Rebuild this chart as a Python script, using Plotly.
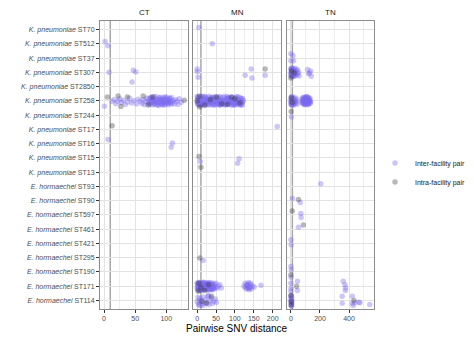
import plotly.graph_objects as go

# ---------------- data ----------------
species = ["K. pneumoniae"] * 11 + ["E. hormaechei"] * 9
st_labels = ["ST70", "ST512", "ST37", "ST307", "ST2850", "ST258", "ST244", "ST17",
             "ST16", "ST15", "ST13", "ST93", "ST90", "ST597", "ST461", "ST421",
             "ST295", "ST190", "ST171", "ST114"]
sites = ["CT", "MN", "TN"]
threshold = 10
x_ranges = {"CT": [-6.5, 135], "MN": [-11, 222], "TN": [-27, 572]}
x_dticks = {"CT": 50, "MN": 50, "TN": 200}

# pairwise SNV distances (x) and vertical jitter per ST, per site and pair type
ct_inter_x = {
    "ST512": [1.6, 6],
    "ST307": [8, 47, 51],
    "ST2850": [45],
    "ST258": [0.5, 13, 16, 19, 22, 25, 28, 31, 34, 38, 41, 44, 48, 52, 55, 58,
              61, 63, 65, 67, 69, 71, 72, 73, 74, 75, 76, 77, 78, 79, 80, 81, 82,
              83, 84, 85, 86, 87, 88, 89, 90, 91, 92, 93, 94, 95, 96, 97, 98, 99,
              100, 101, 102, 103, 104, 105, 106, 107, 108, 110, 111, 113, 115,
              117, 119, 121, 124,
              72.5, 75.5, 78.5, 81.5, 84.5, 87.5, 90.5, 93.5, 96.5, 99.5, 102.5,
              105.5, 108.5, 80, 86, 92, 98, 104, 76, 95],
    "ST16": [6.5, 110, 108],
}
ct_inter_jit = {
    "ST512": [-0.17, 0.13],
    "ST307": [0.0, -0.15, -0.03],
    "ST2850": [-0.33],
    "ST258": [0.38, 0.05, -0.1, 0.2, 0.02, -0.15, 0.12, -0.05, 0.25, 0.08, -0.18,
              0.15, -0.02, 0.22, -0.12, 0.05, 0.18, -0.08, 0.28, 0.02, -0.2, 0.1,
              -0.15, 0.25, 0.0, -0.25, 0.15, -0.05, 0.3, 0.08, -0.18, 0.2, -0.02,
              0.12, -0.28, 0.05, 0.22, -0.1, 0.32, -0.2, 0.0, 0.18, -0.12, 0.26,
              0.06, -0.22, 0.14, -0.04, 0.3, -0.16, 0.1, -0.26, 0.2, -0.06, 0.28,
              0.02, -0.14, 0.16, -0.24, 0.08, -0.02, 0.22, -0.1, 0.05, 0.25,
              -0.15, 0.1,
              0.18, -0.2, 0.05, 0.25, -0.12, 0.1, -0.25, 0.2, -0.08, 0.15, 0.0,
              -0.18, 0.22, -0.3, 0.3, -0.02, -0.28, 0.12, 0.02, 0.3],
    "ST16": [-0.28, -0.05, 0.26],
}
ct_intra_x = {
    "ST258": [5.3, 22.6, 27, 37.6, 62.9, 77.9, 71, 129],
    "ST17": [13],
}
ct_intra_jit = {
    "ST258": [-0.27, -0.34, 0.4, -0.27, -0.34, -0.27, 0.3, -0.04],
    "ST17": [-0.25],
}

mn_inter_x = {
    "ST70": [4.5],
    "ST512": [40],
    "ST307": [0, 0.5, 2.7, 127, 143, 145, 180],
    "ST258": [0, 1, 2, 3, 4, 5, 6, 8, 9, 11, 12, 14, 15, 17, 18, 20, 22, 23, 25,
              27, 28, 30, 32, 33, 35, 37, 38, 40, 42, 43, 45, 47, 48, 50, 52, 54,
              55, 57, 59, 60, 62, 64, 66, 67, 69, 71, 72, 74, 76, 78, 79, 81, 83,
              85, 86, 88, 90, 92, 93, 95, 97, 99, 100, 102, 104, 106, 107, 109,
              111, 113, 114, 116, 118, 120, 121, 122,
              0.5, 2.5, 4.5, 7, 10, 13, 16, 19, 21, 24, 26, 29, 31, 34, 36, 39,
              41, 44, 46, 49, 51, 53, 56, 58, 61, 63, 65, 68, 70, 73, 75, 77, 80,
              82, 84, 87, 89, 91, 94, 96, 98, 101, 103, 105, 108, 110, 112, 115,
              117, 119, 1.5, 3.5, 10.5, 20.5, 30.5, 40.5, 60.5, 80.5, 100.5,
              119.5],
    "ST17": [212],
    "ST15": [111, 107, 8],
    "ST295": [16],
    "ST171": [0, 1, 2, 3, 4, 5, 6, 7, 8, 9, 10, 11, 12, 13, 14, 15, 16, 17, 18,
              19, 20, 21, 22, 23, 24, 25, 26, 27, 28, 29, 30, 31, 32, 33, 34, 35,
              36, 37, 38, 39, 40, 41, 42, 43, 44, 46, 48, 50, 53, 56, 60, 64,
              124, 127, 130, 132, 134, 136, 138, 140, 142, 144, 146, 151, 169,
              0.5, 1.5, 2.5, 3.5, 4.5, 6.5, 8.5, 10.5, 12.5, 14.5, 16.5, 18.5,
              20.5, 22.5, 24.5, 26.5, 28.5, 30.5, 32.5, 34.5, 36.5, 38.5, 40.5,
              42.5, 45, 2, 6, 11, 17, 25,
              128, 133, 137, 141, 131, 139],
    "ST114": [0, 2, 4, 6, 8, 10, 13, 16, 19, 22, 25, 28, 31, 34, 37, 40, 44, 48,
              51, 5, 15, 30],
}
mn_inter_jit = {
    "ST70": [-0.14],
    "ST512": [-0.01],
    "ST307": [-0.24, -0.05, 0.34, 0.2, -0.24, 0.4, 0.2],
    "ST258": [-0.3, 0.1, 0.25, -0.12, 0.02, 0.3, -0.22, 0.15, -0.05, 0.28, -0.28,
              0.08, 0.2, -0.15, -0.02, 0.32, -0.25, 0.12, 0.22, -0.08, 0.0, 0.27,
              -0.32, 0.05, 0.18, -0.18, -0.04, 0.3, -0.2, 0.1, 0.24, -0.1, 0.03,
              0.29, -0.27, 0.14, 0.21, -0.14, -0.01, 0.31, -0.24, 0.07, 0.19,
              -0.06, 0.01, 0.26, -0.3, 0.11, 0.23, -0.16, -0.03, 0.28, -0.21,
              0.09, 0.17, -0.11, 0.04, 0.32, -0.26, 0.13, 0.25, -0.09, -0.02,
              0.3, -0.29, 0.06, 0.2, -0.13, 0.0, 0.27, -0.23, 0.12, 0.22, -0.17,
              0.05, -0.05,
              0.15, -0.28, 0.05, 0.3, -0.1, 0.2, -0.3, 0.0, 0.25, -0.18, 0.12,
              -0.05, 0.28, -0.22, 0.08, 0.18, -0.12, 0.3, -0.28, 0.02, 0.22,
              -0.15, 0.1, -0.3, 0.26, -0.02, 0.16, -0.24, 0.06, 0.3, -0.08, 0.2,
              -0.3, 0.12, -0.16, 0.24, 0.0, -0.26, 0.18, -0.1, 0.28, -0.2, 0.04,
              0.14, -0.28, 0.22, -0.04, 0.3, -0.14, 0.1, -0.18, 0.2, 0.3, -0.3,
              0.0, -0.25, 0.25, -0.2, 0.2, 0.3],
    "ST17": [-0.2],
    "ST15": [0.07, 0.38, 0.25],
    "ST295": [0.2],
    "ST171": [-0.2, 0.15, 0.25, -0.05, 0.1, -0.25, 0.2, 0.0, -0.15, 0.26, -0.1,
              0.05, 0.22, -0.22, 0.12, -0.02, 0.18, -0.18, 0.08, 0.24, -0.12,
              0.02, -0.24, 0.16, -0.06, 0.2, 0.1, -0.2, 0.0, 0.25, -0.14, 0.06,
              -0.25, 0.14, -0.04, 0.22, -0.16, 0.04, 0.18, -0.08, 0.26, -0.22,
              0.1, -0.02, 0.2, -0.12, 0.08, -0.2, 0.15, 0.0, -0.1, 0.12,
              0.0, -0.2, 0.2, -0.08, 0.12, -0.25, 0.25, 0.05, -0.12, 0.18,
              -0.02, 0.05, -0.06,
              0.1, -0.15, 0.25, -0.25, 0.0, 0.2, -0.2, 0.12, -0.08, 0.26, -0.26,
              0.05, 0.18, -0.12, 0.22, -0.18, 0.02, 0.26, -0.22, 0.1, -0.05, 0.2,
              -0.15, 0.06, 0.15, -0.1, 0.3, 0.28, -0.28, 0.0,
              0.1, -0.12, 0.15, -0.2, -0.05, 0.08],
    "ST114": [0.1, -0.2, 0.25, 0.0, -0.15, 0.3, 0.05, -0.25, 0.2, -0.05, 0.15,
              -0.3, 0.28, 0.0, -0.18, 0.22, 0.08, -0.1, 0.15, 0.35, 0.35, -0.35],
}
mn_intra_x = {
    "ST307": [180],
    "ST258": [7, 51, 7, 65, 91, 113, 0, 20, 35, 80, 100],
    "ST15": [5],
    "ST13": [10],
    "ST295": [7],
    "ST171": [5, 10, 20, 30, 3],
    "ST114": [12, 38, 25],
}
mn_intra_jit = {
    "ST307": [-0.24],
    "ST258": [-0.34, -0.27, 0.43, 0.22, -0.27, 0.13, 0.0, 0.3, -0.1, 0.25, -0.15],
    "ST15": [-0.1],
    "ST13": [-0.35],
    "ST295": [0.03],
    "ST171": [-0.2, 0.1, 0.3, -0.1, 0.35],
    "ST114": [0.05, -0.3, 0.2],
}

tn_inter_x = {
    "ST37": [0, 14, 0, 18],
    "ST307": [0, 1, 2, 3, 4, 5, 6, 8, 10, 12, 14, 16, 18, 20, 22, 25, 28, 31, 34,
              37, 40, 44, 48, 52, 56, 115, 128, 140, 122, 135,
              0.5, 2.5, 4.5, 7, 9, 11, 15, 19, 24, 30],
    "ST258": [0, 1, 2, 3, 5, 7, 9, 11, 13, 16, 19, 22, 26, 30, 34, 38, 42, 45,
              75, 78, 80, 82, 85, 87, 90, 92, 95, 97, 100, 102, 105, 107, 110,
              112, 115, 117, 120, 122, 125, 127, 130, 132, 135, 88, 98, 108, 118,
              128,
              77, 83, 89, 94, 99, 104, 109, 114, 119, 124, 129, 134, 93, 113, 103,
              0.5, 2.5, 4, 6, 10, 15, 20, 28],
    "ST244": [4],
    "ST93": [205],
    "ST90": [9, 64],
    "ST597": [68, 70],
    "ST461": [52],
    "ST421": [0, 2],
    "ST190": [0, 3, 1],
    "ST171": [0, 1, 0, 45, 45, 360, 372, 376, 375],
    "ST114": [0, 1, 2, 3, 4, 5, 6, 0, 2, 4, 1, 3,
              353, 353, 422, 440, 422, 468, 543, 475, 429],
}
tn_inter_jit = {
    "ST37": [-0.3, -0.16, 0.18, 0.18],
    "ST307": [-0.25, 0.2, 0.05, -0.1, 0.3, -0.3, 0.12, -0.18, 0.25, 0.0, -0.22,
              0.15, -0.05, 0.28, -0.15, 0.1, -0.28, 0.22, 0.02, -0.12, 0.18,
              -0.2, 0.08, -0.02, 0.25, -0.2, 0.04, 0.27, 0.1, -0.1,
              0.1, -0.2, 0.22, -0.05, 0.15, -0.28, 0.3, 0.02, -0.1, 0.12],
    "ST258": [0.2, -0.25, 0.05, 0.3, -0.1, 0.15, -0.3, 0.25, 0.0, -0.18, 0.1,
              0.28, -0.05, -0.22, 0.18, 0.02, -0.12, 0.22,
              0.0, -0.2, 0.15, -0.05, 0.2, -0.25, 0.05, 0.18, -0.15, 0.1, -0.22,
              0.2, -0.02, 0.12, -0.18, 0.22, 0.0, -0.12, 0.15, -0.25, 0.08,
              -0.08, 0.18, -0.15, 0.05, -0.1, 0.25, -0.28, 0.28, 0.0,
              0.12, -0.12, 0.08, -0.2, 0.18, -0.08, 0.1, -0.25, 0.22, -0.15,
              0.02, 0.15, 0.28, -0.05, -0.28,
              -0.05, 0.12, -0.25, 0.25, 0.05, 0.3, -0.15, 0.1],
    "ST244": [0.13],
    "ST93": [-0.19],
    "ST90": [-0.15, 0.13],
    "ST597": [-0.1, 0.18],
    "ST461": [-0.13],
    "ST421": [-0.25, 0.1],
    "ST190": [-0.38, -0.15, 0.38],
    "ST171": [-0.2, 0.15, 0.35, -0.35, 0.3, -0.34, -0.1, 0.12, 0.3],
    "ST114": [-0.3, 0.35, -0.1, 0.2, 0.0, -0.2, 0.3, 0.1, -0.35, 0.4, 0.05,
              -0.05, -0.3, 0.2, -0.3, 0.16, 0.2, 0.12, 0.28, 0.16, 0.35],
}
tn_intra_x = {
    "ST307": [0, 22, 5],
    "ST258": [11, 3],
    "ST244": [2],
    "ST90": [52],
    "ST597": [9],
    "ST461": [86],
    "ST190": [0],
    "ST171": [39],
    "ST114": [0, 5, 434, 2],
}
tn_intra_jit = {
    "ST307": [0.39, 0.04, -0.1],
    "ST258": [0.12, -0.2],
    "ST244": [-0.25],
    "ST90": [-0.08],
    "ST597": [-0.27],
    "ST461": [-0.3],
    "ST190": [0.2],
    "ST171": [0.0],
    "ST114": [-0.35, 0.1, 0.0, 0.3],
}

inter_data = {"CT": (ct_inter_x, ct_inter_jit), "MN": (mn_inter_x, mn_inter_jit),
              "TN": (tn_inter_x, tn_inter_jit)}
intra_data = {"CT": (ct_intra_x, ct_intra_jit), "MN": (mn_intra_x, mn_intra_jit),
              "TN": (tn_intra_x, tn_intra_jit)}

# ---------------- styling ----------------
W, H = 474, 338
FONT = "Liberation Sans, Arial, Helvetica, sans-serif"
INTER_COLOR = "#7B68EE"
INTRA_COLOR = "#333333"
TICK_COLOR = "#4d4d4d"
panel_px = {"CT": (100, 188), "MN": (193, 281), "TN": (287, 374)}
y_dom = [1 - 309 / H, 1 - 21 / H]

row_of = {st: i for i, st in enumerate(st_labels)}
ticktext = [f"<i>{sp}</i> {st}" for sp, st in zip(species, st_labels)]


def flatten(xd, jd):
    xs, ys = [], []
    for st, xv in xd.items():
        for x, j in zip(xv, jd[st]):
            xs.append(x)
            ys.append(row_of[st] + j)
    return xs, ys


fig = go.Figure()
for k, site in enumerate(sites):
    xa = "x" if k == 0 else f"x{k + 1}"
    ya = "y" if k == 0 else f"y{k + 1}"
    for name, data, color, op in [("Inter-facility pair", inter_data, INTER_COLOR, 0.38),
                                  ("Intra-facility pair", intra_data, INTRA_COLOR, 0.35)]:
        xs, ys = flatten(*data[site])
        fig.add_trace(go.Scatter(
            x=xs, y=ys, mode="markers", name=name, legendgroup=name,
            showlegend=(k == 0), xaxis=xa, yaxis=ya,
            marker=dict(size=5.5, color=color, opacity=op, line=dict(width=0)),
        ))

layout = dict(
    width=W, height=H, template="none",
    margin=dict(l=0, r=0, t=0, b=0),
    paper_bgcolor="white", plot_bgcolor="white",
    font=dict(family=FONT, size=7, color=TICK_COLOR),
    showlegend=True,
    legend=dict(x=375 / W, y=1 - 172.5 / H, xanchor="left", yanchor="middle",
                font=dict(size=7, color="#1a1a1a", family=FONT),
                bgcolor="rgba(0,0,0,0)", itemsizing="trace", tracegroupgap=0),
)
annotations = []
shapes = []
for k, site in enumerate(sites):
    sx = "" if k == 0 else str(k + 1)
    x0, x1 = panel_px[site]
    layout[f"xaxis{sx}"] = dict(
        domain=[x0 / W, x1 / W], range=x_ranges[site], anchor=f"y{sx}",
        dtick=x_dticks[site], tick0=0, ticks="outside", ticklen=3, tickwidth=1,
        tickcolor="#333333", showgrid=True, gridcolor="#e3e3e3", gridwidth=1,
        minor=dict(dtick=x_dticks[site] / 2, showgrid=True, gridcolor="#eeeeee",
                   gridwidth=0.6, ticks=""),
        zeroline=False, showline=True, mirror=True, linecolor="#8c8c8c",
        linewidth=1, automargin=False,
        tickfont=dict(size=7, color=TICK_COLOR, family=FONT),
    )
    layout[f"yaxis{sx}"] = dict(
        domain=y_dom, range=[19.6, -0.6], anchor=f"x{sx}",
        tickmode="array", tickvals=list(range(len(st_labels))),
        ticktext=ticktext if k == 0 else [""] * len(st_labels),
        showticklabels=(k == 0), ticks="outside" if k == 0 else "",
        ticklen=3, tickwidth=1, tickcolor="#333333",
        showgrid=True, gridcolor="#e3e3e3", gridwidth=1,
        zeroline=False, showline=True, mirror=True, linecolor="#8c8c8c",
        linewidth=1, automargin=False,
        tickfont=dict(size=7, color=TICK_COLOR, family=FONT),
    )
    if k > 0:
        layout[f"yaxis{sx}"]["matches"] = "y"
    shapes.append(dict(type="line", xref=f"x{sx}", yref=f"y{sx} domain",
                       x0=threshold, x1=threshold, y0=0, y1=1,
                       line=dict(color="#a8a8a8", width=1.5), layer="below"))
    annotations.append(dict(text=site, xref="paper", yref="paper",
                            x=(x0 + x1) / 2 / W, y=1 - 13 / H, showarrow=False,
                            xanchor="center", yanchor="middle",
                            font=dict(size=8, color="#1a1a1a", family=FONT)))

annotations.append(dict(text="Pairwise SNV distance", xref="paper", yref="paper",
                        x=237 / W, y=1 - 328 / H, showarrow=False,
                        xanchor="center", yanchor="middle",
                        font=dict(size=10, color="#000000", family=FONT)))
layout["annotations"] = annotations
layout["shapes"] = shapes
fig.update_layout(**layout)
fig.write_html("out.html")
